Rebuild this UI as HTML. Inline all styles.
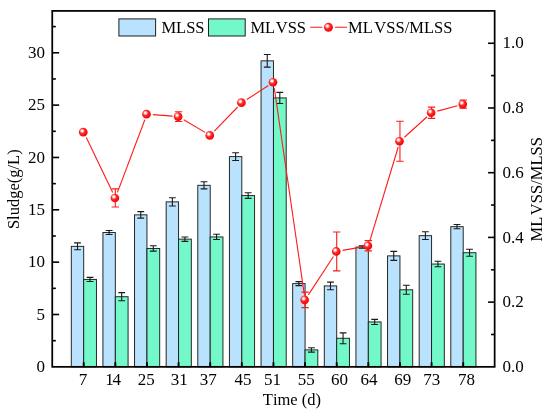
<!DOCTYPE html>
<html><head><meta charset="utf-8"><title>Sludge chart</title>
<style>html,body{margin:0;padding:0;background:#fff}svg{display:block}</style></head>
<body>
<svg width="550" height="418" viewBox="0 0 550 418">
<defs><radialGradient id="ball" cx="0.38" cy="0.36" r="0.66"><stop offset="0" stop-color="#fff"/><stop offset="0.13" stop-color="#fff"/><stop offset="0.28" stop-color="#ff9a9a"/><stop offset="0.45" stop-color="#ff2a2a"/><stop offset="1" stop-color="#f40000"/></radialGradient></defs>
<rect width="550" height="418" fill="#fff"/>
<g stroke="#1e1e1e" stroke-width="0.95">
<rect x="71.30" y="246.35" width="12.4" height="120.50" fill="#b8e2fd"/>
<rect x="83.70" y="279.43" width="12.75" height="87.42" fill="#73f8c9"/>
<rect x="102.92" y="232.53" width="12.4" height="134.32" fill="#b8e2fd"/>
<rect x="115.33" y="296.71" width="12.75" height="70.14" fill="#73f8c9"/>
<rect x="134.55" y="214.84" width="12.4" height="152.01" fill="#b8e2fd"/>
<rect x="146.95" y="248.44" width="12.75" height="118.41" fill="#73f8c9"/>
<rect x="166.17" y="201.86" width="12.4" height="164.99" fill="#b8e2fd"/>
<rect x="178.57" y="239.13" width="12.75" height="127.72" fill="#73f8c9"/>
<rect x="197.80" y="185.32" width="12.4" height="181.53" fill="#b8e2fd"/>
<rect x="210.20" y="236.93" width="12.75" height="129.92" fill="#73f8c9"/>
<rect x="229.42" y="156.63" width="12.4" height="210.22" fill="#b8e2fd"/>
<rect x="241.82" y="195.58" width="12.75" height="171.27" fill="#73f8c9"/>
<rect x="261.05" y="60.84" width="12.4" height="306.01" fill="#b8e2fd"/>
<rect x="273.45" y="97.90" width="12.75" height="268.95" fill="#73f8c9"/>
<rect x="292.68" y="283.62" width="12.4" height="83.23" fill="#b8e2fd"/>
<rect x="305.07" y="349.89" width="12.75" height="16.96" fill="#73f8c9"/>
<rect x="324.30" y="285.92" width="12.4" height="80.93" fill="#b8e2fd"/>
<rect x="336.70" y="338.27" width="12.75" height="28.58" fill="#73f8c9"/>
<rect x="355.93" y="247.08" width="12.4" height="119.77" fill="#b8e2fd"/>
<rect x="368.32" y="321.94" width="12.75" height="44.91" fill="#73f8c9"/>
<rect x="387.55" y="255.88" width="12.4" height="110.97" fill="#b8e2fd"/>
<rect x="399.95" y="289.80" width="12.75" height="77.05" fill="#73f8c9"/>
<rect x="419.18" y="235.67" width="12.4" height="131.18" fill="#b8e2fd"/>
<rect x="431.57" y="264.04" width="12.75" height="102.81" fill="#73f8c9"/>
<rect x="450.80" y="226.67" width="12.4" height="140.18" fill="#b8e2fd"/>
<rect x="463.20" y="252.74" width="12.75" height="114.11" fill="#73f8c9"/>
</g>
<g stroke="#1a1a1a" stroke-width="1.1" fill="none">
<path d="M77.50 242.90V249.81M74.10 242.90H80.90M74.10 249.81H80.90"/>
<path d="M90.05 277.34V281.53M86.65 277.34H93.45M86.65 281.53H93.45"/>
<path d="M109.12 230.54V234.52M105.72 230.54H112.53M105.72 234.52H112.53"/>
<path d="M121.67 292.62V300.79M118.27 292.62H125.08M118.27 300.79H125.08"/>
<path d="M140.75 211.59V218.08M137.35 211.59H144.15M137.35 218.08H144.15"/>
<path d="M153.30 245.72V251.17M149.90 245.72H156.70M149.90 251.17H156.70"/>
<path d="M172.38 197.77V205.94M168.97 197.77H175.78M168.97 205.94H175.78"/>
<path d="M184.92 236.93V241.33M181.52 236.93H188.32M181.52 241.33H188.32"/>
<path d="M204.00 181.76V188.88M200.60 181.76H207.40M200.60 188.88H207.40"/>
<path d="M216.55 234.31V239.55M213.15 234.31H219.95M213.15 239.55H219.95"/>
<path d="M235.62 152.81V160.45M232.22 152.81H239.03M232.22 160.45H239.03"/>
<path d="M248.17 192.75V198.40M244.77 192.75H251.57M244.77 198.40H251.57"/>
<path d="M267.25 54.56V67.12M263.85 54.56H270.65M263.85 67.12H270.65"/>
<path d="M279.80 92.35V103.45M276.40 92.35H283.20M276.40 103.45H283.20"/>
<path d="M298.88 281.63V285.61M295.48 281.63H302.27M295.48 285.61H302.27"/>
<path d="M311.43 347.69V352.09M308.03 347.69H314.82M308.03 352.09H314.82"/>
<path d="M330.50 282.10V289.74M327.10 282.10H333.90M327.10 289.74H333.90"/>
<path d="M343.05 332.83V343.71M339.65 332.83H346.45M339.65 343.71H346.45"/>
<path d="M362.12 245.88V248.29M358.73 245.88H365.52M358.73 248.29H365.52"/>
<path d="M374.68 319.42V324.45M371.28 319.42H378.07M371.28 324.45H378.07"/>
<path d="M393.75 251.38V260.38M390.35 251.38H397.15M390.35 260.38H397.15"/>
<path d="M406.30 285.30V294.30M402.90 285.30H409.70M402.90 294.30H409.70"/>
<path d="M425.38 231.80V239.55M421.98 231.80H428.77M421.98 239.55H428.77"/>
<path d="M437.93 261.32V266.77M434.53 261.32H441.32M434.53 266.77H441.32"/>
<path d="M457.00 224.57V228.76M453.60 224.57H460.40M453.60 228.76H460.40"/>
<path d="M469.55 249.28V256.19M466.15 249.28H472.95M466.15 256.19H472.95"/>
</g>
<g stroke="#ff1a1a" stroke-width="1.1" fill="none">
<path d="M86.30 137.59L112.73 192.57"/>
<path d="M117.44 192.36L144.83 119.77"/>
<path d="M152.93 114.62L172.59 116.15"/>
<path d="M183.73 119.69L205.04 132.35"/>
<path d="M214.37 131.10L237.66 107.00"/>
<path d="M246.87 99.43L268.41 85.52"/>
<path d="M274.31 88.20L304.21 293.91"/>
<path d="M308.36 294.83L333.42 256.48"/>
<path d="M342.61 250.40L362.42 246.85"/>
<path d="M370.06 240.04L398.21 147.00"/>
<path d="M404.41 137.24L427.12 116.75"/>
<path d="M437.36 111.15L457.41 105.66"/>
<path d="M115.33 188.92V207.04M111.62 188.92H119.03M111.62 207.04H119.03"/>
<path d="M178.57 111.77V121.47M174.88 111.77H182.27M174.88 121.47H182.27"/>
<path d="M305.07 292.09V307.62M301.38 292.09H308.77M301.38 307.62H308.77"/>
<path d="M336.70 232.04V270.87M333.00 232.04H340.40M333.00 270.87H340.40"/>
<path d="M368.32 240.67V250.90M364.62 240.67H372.02M364.62 250.90H372.02"/>
<path d="M399.95 121.19V161.32M396.25 121.19H403.65M396.25 161.32H403.65"/>
<path d="M431.57 107.10V118.36M427.88 107.10H435.27M427.88 118.36H435.27"/>
<path d="M463.20 100.06V108.09M459.50 100.06H466.90M459.50 108.09H466.90"/>
</g>
<circle cx="83.25" cy="132.18" r="4.35" fill="url(#ball)"/>
<circle cx="114.88" cy="197.98" r="4.35" fill="url(#ball)"/>
<circle cx="146.50" cy="114.16" r="4.35" fill="url(#ball)"/>
<circle cx="178.12" cy="116.62" r="4.35" fill="url(#ball)"/>
<circle cx="209.75" cy="135.42" r="4.35" fill="url(#ball)"/>
<circle cx="241.38" cy="102.68" r="4.35" fill="url(#ball)"/>
<circle cx="273.00" cy="82.26" r="4.35" fill="url(#ball)"/>
<circle cx="304.62" cy="299.85" r="4.35" fill="url(#ball)"/>
<circle cx="336.25" cy="251.46" r="4.35" fill="url(#ball)"/>
<circle cx="367.88" cy="245.79" r="4.35" fill="url(#ball)"/>
<circle cx="399.50" cy="141.25" r="4.35" fill="url(#ball)"/>
<circle cx="431.12" cy="112.73" r="4.35" fill="url(#ball)"/>
<circle cx="462.75" cy="104.08" r="4.35" fill="url(#ball)"/>
<rect x="52.25" y="10.9" width="442.40" height="355.95" fill="none" stroke="#000" stroke-width="1.75"/>
<g stroke="#000" stroke-width="1.6">
<path d="M52.25 340.68h3.6"/>
<path d="M52.25 314.50h6.9"/>
<path d="M52.25 288.33h3.6"/>
<path d="M52.25 262.16h6.9"/>
<path d="M52.25 235.99h3.6"/>
<path d="M52.25 209.81h6.9"/>
<path d="M52.25 183.64h3.6"/>
<path d="M52.25 157.47h6.9"/>
<path d="M52.25 131.29h3.6"/>
<path d="M52.25 105.12h6.9"/>
<path d="M52.25 78.95h3.6"/>
<path d="M52.25 52.78h6.9"/>
<path d="M52.25 26.60h3.6"/>
<path d="M494.65 334.49h-3.6"/>
<path d="M494.65 302.13h-6.6"/>
<path d="M494.65 269.77h-3.6"/>
<path d="M494.65 237.41h-6.6"/>
<path d="M494.65 205.05h-3.6"/>
<path d="M494.65 172.70h-6.6"/>
<path d="M494.65 140.34h-3.6"/>
<path d="M494.65 107.98h-6.6"/>
<path d="M494.65 75.62h-3.6"/>
<path d="M494.65 43.26h-6.6"/>
<path d="M83.70 366.85v-4.6" stroke-width="1.9"/>
<path d="M115.33 366.85v-4.6" stroke-width="1.9"/>
<path d="M146.95 366.85v-4.6" stroke-width="1.9"/>
<path d="M178.57 366.85v-4.6" stroke-width="1.9"/>
<path d="M210.20 366.85v-4.6" stroke-width="1.9"/>
<path d="M241.82 366.85v-4.6" stroke-width="1.9"/>
<path d="M273.45 366.85v-4.6" stroke-width="1.9"/>
<path d="M305.07 366.85v-4.6" stroke-width="1.9"/>
<path d="M336.70 366.85v-4.6" stroke-width="1.9"/>
<path d="M368.32 366.85v-4.6" stroke-width="1.9"/>
<path d="M399.95 366.85v-4.6" stroke-width="1.9"/>
<path d="M431.57 366.85v-4.6" stroke-width="1.9"/>
<path d="M463.20 366.85v-4.6" stroke-width="1.9"/>
</g>
<g font-family="'Liberation Serif', serif" font-size="17" fill="#000">
<text x="45" y="372.15" text-anchor="end">0</text>
<text x="45" y="319.80" text-anchor="end">5</text>
<text x="45" y="267.46" text-anchor="end">10</text>
<text x="45" y="215.11" text-anchor="end">15</text>
<text x="45" y="162.77" text-anchor="end">20</text>
<text x="45" y="110.42" text-anchor="end">25</text>
<text x="45" y="58.08" text-anchor="end">30</text>
<text x="502.5" y="372.05">0.0</text>
<text x="502.5" y="307.33">0.2</text>
<text x="502.5" y="242.61">0.4</text>
<text x="502.5" y="177.90">0.6</text>
<text x="502.5" y="113.18">0.8</text>
<text x="502.5" y="48.46">1.0</text>
<text x="83.00" y="385.45" text-anchor="middle">7</text>
<text x="113.03" y="385.45" text-anchor="middle" dx="0 -1.3">14</text>
<text x="146.15" y="385.45" text-anchor="middle">25</text>
<text x="179.27" y="385.45" text-anchor="middle">31</text>
<text x="208.20" y="385.45" text-anchor="middle">37</text>
<text x="243.02" y="385.45" text-anchor="middle">45</text>
<text x="272.39" y="385.45" text-anchor="middle">51</text>
<text x="306.27" y="385.45" text-anchor="middle">55</text>
<text x="339.50" y="385.45" text-anchor="middle">60</text>
<text x="368.93" y="385.45" text-anchor="middle">64</text>
<text x="402.65" y="385.45" text-anchor="middle">69</text>
<text x="431.77" y="385.45" text-anchor="middle">73</text>
<text x="466.50" y="385.45" text-anchor="middle">78</text>
</g>
<g font-family="'Liberation Serif', serif" font-size="16.5" fill="#000" style="font-kerning:none">
<text x="291.9" y="405" text-anchor="middle">Time (d)</text>
<text transform="translate(18.8 189.2) rotate(-90)" text-anchor="middle">Sludge(g/L)</text>
<text transform="translate(542.4 189.3) rotate(-90)" text-anchor="middle" dx="0 0 1.5">MLVSS/MLSS</text>
<rect x="118.9" y="18.9" width="36.7" height="17.1" fill="#b8e2fd" stroke="#1e1e1e" stroke-width="1"/>
<text x="161.4" y="33">MLSS</text>
<rect x="208.5" y="18.9" width="36.7" height="17.1" fill="#73f8c9" stroke="#1e1e1e" stroke-width="1"/>
<text x="250.4" y="33" dx="0 0 0.6">MLVSS</text>
<path d="M310.2 27.25H322.3M335 27.25H347.1" stroke="#ff1a1a" stroke-width="1.1"/>
<circle cx="328.45" cy="27.35" r="4.5" fill="url(#ball)"/>
<text x="348.1" y="33" dx="0 0 1.5">MLVSS/MLSS</text>
</g>
</svg>
</body></html>
